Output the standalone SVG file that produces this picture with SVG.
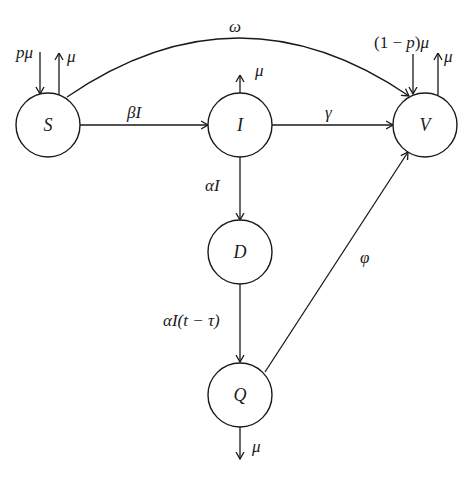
<svg xmlns="http://www.w3.org/2000/svg" width="474" height="477" viewBox="0 0 474 477">
<style>
.n{fill:#fff;stroke:#1a1a1a;stroke-width:1.4}
.e{fill:none;stroke:#1a1a1a;stroke-width:1.3;marker-end:url(#a)}
.t{font-family:"Liberation Serif",serif;font-size:18px;font-style:italic;fill:#1a1a1a}
.l{font-family:"Liberation Serif",serif;font-size:17px;font-style:italic;fill:#1a1a1a}
</style>
<defs>
<marker id="a" viewBox="0 0 8 10" refX="7.5" refY="5" markerWidth="8" markerHeight="10" markerUnits="userSpaceOnUse" orient="auto">
<path d="M0.5,1 L7.5,5 L0.5,9" fill="none" stroke="#1a1a1a" stroke-width="1.3"/>
</marker>
</defs>
<rect width="474" height="477" fill="#fff"/>
<g id="connectors">
<path class="e" d="M80,125 H208"/>
<path class="e" d="M272,125 H393"/>
<path class="e" d="M240,157 V220"/>
<path class="e" d="M240,284 V362"/>
<path class="e" d="M265,372 L408,152"/>
<path class="e" d="M67,97 Q238.5,-20.5 409,96"/>
<path class="e" d="M40,52 V94"/>
<path class="e" d="M59,95 V53"/>
<path class="e" d="M240,93 V75"/>
<path class="e" d="M413,54 V94"/>
<path class="e" d="M438,95 V53"/>
<path class="e" d="M240,427 V459"/>
<text class="l" x="127" y="118">βI</text>
<text class="l" x="325" y="118">γ</text>
<text class="l" x="229" y="32">ω</text>
<text class="l" x="205" y="191">αI</text>
<text class="l" x="163" y="326">αI(<tspan>t</tspan> − τ)</text>
<text class="l" x="360" y="263">φ</text>
<text class="l" x="16" y="58">pμ</text>
<text class="l" x="67" y="62">μ</text>
<text class="l" x="255" y="76">μ</text>
<text class="l" x="374" y="48"><tspan font-style="normal">(1 − </tspan>p<tspan font-style="normal">)</tspan>μ</text>
<text class="l" x="444" y="62">μ</text>
<text class="l" x="252" y="452">μ</text>
</g>
<g id="S"><circle class="n" cx="48" cy="125" r="32"/><text class="t" x="48" y="131" text-anchor="middle">S</text></g>
<g id="I"><circle class="n" cx="240" cy="125" r="32"/><text class="t" x="240" y="131" text-anchor="middle">I</text></g>
<g id="V"><circle class="n" cx="425" cy="125" r="32"/><text class="t" x="425" y="131" text-anchor="middle">V</text></g>
<g id="D"><circle class="n" cx="240" cy="252" r="32"/><text class="t" x="240" y="258" text-anchor="middle">D</text></g>
<g id="Q"><circle class="n" cx="240" cy="395" r="32"/><text class="t" x="240" y="401" text-anchor="middle" font-style="normal">Q</text></g>
</svg>
